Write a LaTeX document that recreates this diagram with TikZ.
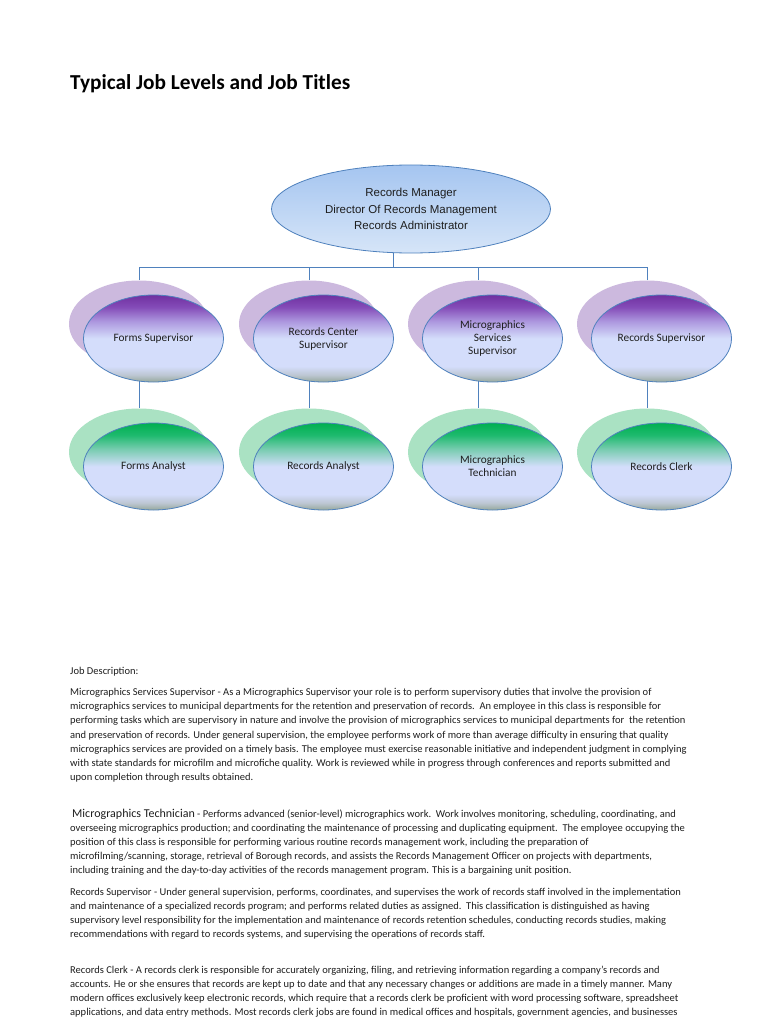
\documentclass[tikz,border=0pt]{standalone}
\usepackage{fontspec}
\setmainfont{Carlito}
\newfontfamily\arialfont{Liberation Sans}
\usetikzlibrary{shapes.geometric,backgrounds}

\definecolor{linkblue}{RGB}{79,129,189}
\definecolor{lilac}{RGB}{204,185,222}
\definecolor{mint}{RGB}{170,226,195}
\definecolor{deeppurple}{RGB}{112,48,160}
\definecolor{darkpurple}{RGB}{132,76,184}
\definecolor{midpurple}{RGB}{172,150,222}
\definecolor{leafgreen}{RGB}{0,176,80}
\definecolor{darkgreen}{RGB}{30,186,110}
\definecolor{midgreen}{RGB}{120,204,176}
\definecolor{paleblue}{RGB}{212,221,251}
\definecolor{lowgrey}{RGB}{188,198,210}
\definecolor{basegrey}{RGB}{150,168,155}
\definecolor{skyblue}{RGB}{165,197,240}
\definecolor{paleskyblue}{RGB}{214,229,248}
\definecolor{inkgrey}{RGB}{30,30,30}

\pgfdeclareverticalshading{purplefade}{100bp}{color(0bp)=(basegrey); color(25bp)=(basegrey); color(29bp)=(lowgrey); color(34bp)=(paleblue); color(50bp)=(paleblue); color(60bp)=(midpurple); color(68bp)=(darkpurple); color(75bp)=(deeppurple); color(100bp)=(deeppurple)}
\pgfdeclareverticalshading{greenfade}{100bp}{color(0bp)=(basegrey); color(25bp)=(basegrey); color(29bp)=(lowgrey); color(34bp)=(paleblue); color(50bp)=(paleblue); color(60bp)=(midgreen); color(68bp)=(darkgreen); color(75bp)=(leafgreen); color(100bp)=(leafgreen)}

\begin{document}
\begin{tikzpicture}[x=1pt,y=-1pt,
  conn/.style={draw=linkblue,line width=0.8pt},
  backball/.style={ellipse,minimum width=140pt,minimum height=87pt,inner sep=0pt},
  frontball/.style={backball,draw=linkblue,line width=0.8pt,shade,align=center,text=inkgrey,font=\fontsize{11.3}{13}\selectfont},
  body/.style={anchor=base west,inner sep=0pt,text=inkgrey,font=\fontsize{10.5}{14}\selectfont}]
\useasboundingbox (0,0) rectangle (768,1024);

\node [anchor=base west,inner sep=0pt,font=\bfseries\fontsize{21.3}{25}\selectfont] (title) at (70,90) {Typical Job Levels and Job Titles};

% top level
\node [ellipse,minimum width=279pt,minimum height=88pt,inner sep=0pt,draw=linkblue,line width=0.8pt,top color=skyblue,bottom color=paleskyblue,align=center,text=inkgrey,font=\arialfont\fontsize{11.5}{16.5}\selectfont] (mgr) at (411,209) {Records Manager\\Director Of Records Management\\Records Administrator};
\coordinate (bar) at (393,267);

% supervisors
\node [backball,fill=lilac] (fsupb) at (139,324) {};
\node [backball,fill=lilac] (rcsb) at (309,324) {};
\node [backball,fill=lilac] (mssb) at (478,324) {};
\node [backball,fill=lilac] (rsupb) at (647,324) {};
\node [frontball,shading=purplefade] (fsup) at (153.5,338.5) {Forms Supervisor};
\node [frontball,shading=purplefade] (rcs) at (323.5,338.5) {Records Center\\Supervisor};
\node [frontball,shading=purplefade] (mss) at (492.5,338.5) {Micrographics\\Services\\Supervisor};
\node [frontball,shading=purplefade] (rsup) at (661.5,338.5) {Records Supervisor};

% staff
\node [backball,fill=mint] (fanab) at (139,452) {};
\node [backball,fill=mint] (ranab) at (309,452) {};
\node [backball,fill=mint] (mtecb) at (478,452) {};
\node [backball,fill=mint] (rclkb) at (647,452) {};
\node [frontball,shading=greenfade] (fana) at (153.5,466.5) {Forms Analyst};
\node [frontball,shading=greenfade] (rana) at (323.5,466.5) {Records Analyst};
\node [frontball,shading=greenfade] (mtec) at (492.5,466.5) {Micrographics\\Technician};
\node [frontball,shading=greenfade] (rclk) at (661.5,466.5) {Records Clerk};

\begin{pgfonlayer}{background}
\fill [white] (0,0) rectangle (768,1024);
\draw [conn] (mgr.south -| bar) -- (bar);
\draw [conn] (fsupb.north) |- (bar);
\draw [conn] (rcsb.north) |- (bar);
\draw [conn] (mssb.north) |- (bar);
\draw [conn] (rsupb.north) |- (bar);
\draw [conn] (fsupb.south) -- (fanab.north);
\draw [conn] (rcsb.south) -- (ranab.north);
\draw [conn] (mssb.south) -- (mtecb.north);
\draw [conn] (rsupb.south) -- (rclkb.north);
\end{pgfonlayer}

% job description text
\node [body] (jd) at (70,674) {Job Description:};

\node [body] (p1a) at (70,695) {Micrographics Services Supervisor - As a Micrographics Supervisor your role is to perform supervisory duties that involve the provision of};
\node [body] (p1b) at (70,709) {micrographics services to municipal departments for the retention and preservation of records.\ \ An employee in this class is responsible for};
\node [body] (p1c) at (70,723) {performing tasks which are supervisory in nature and involve the provision of micrographics services to municipal departments for\ \ the retention};
\node [body] (p1d) at (70,738) {and preservation of records. Under general supervision, the employee performs work of more than average difficulty in ensuring that quality};
\node [body] (p1e) at (70,752) {micrographics services are provided on a timely basis. The employee must exercise reasonable initiative and independent judgment in complying};
\node [body] (p1f) at (70,766) {with state standards for microfilm and microfiche quality. Work is reviewed while in progress through conferences and reports submitted and};
\node [body] (p1g) at (70,780) {upon completion through results obtained.};

\node [body] (p2a) at (72,817) {{\fontsize{12}{14}\selectfont Micrographics Technician} - Performs advanced (senior-level) micrographics work.\ \ Work involves monitoring, scheduling, coordinating, and};
\node [body] (p2b) at (70,831) {overseeing micrographics production; and coordinating the maintenance of processing and duplicating equipment.\ \ The employee occupying the};
\node [body] (p2c) at (70,845) {position of this class is responsible for performing various routine records management work, including the preparation of};
\node [body] (p2d) at (70,859) {microfilming/scanning, storage, retrieval of Borough records, and assists the Records Management Officer on projects with departments,};
\node [body] (p2e) at (70,873) {including training and the day-to-day activities of the records management program. This is a bargaining unit position.};

\node [body] (p3a) at (70,895) {Records Supervisor - Under general supervision, performs, coordinates, and supervises the work of records staff involved in the implementation};
\node [body] (p3b) at (70,909) {and maintenance of a specialized records program; and performs related duties as assigned.\ \ This classification is distinguished as having};
\node [body] (p3c) at (70,923) {supervisory level responsibility for the implementation and maintenance of records retention schedules, conducting records studies, making};
\node [body] (p3d) at (70,937) {recommendations with regard to records systems, and supervising the operations of records staff.};

\node [body] (p4a) at (70,973) {Records Clerk - A records clerk is responsible for accurately organizing, filing, and retrieving information regarding a company's records and};
\node [body] (p4b) at (70,987) {accounts. He or she ensures that records are kept up to date and that any necessary changes or additions are made in a timely manner. Many};
\node [body] (p4c) at (70,1001) {modern offices exclusively keep electronic records, which require that a records clerk be proficient with word processing software, spreadsheet};
\node [body] (p4d) at (70,1015) {applications, and data entry methods. Most records clerk jobs are found in medical offices and hospitals, government agencies, and businesses};
\end{tikzpicture}
\end{document}
